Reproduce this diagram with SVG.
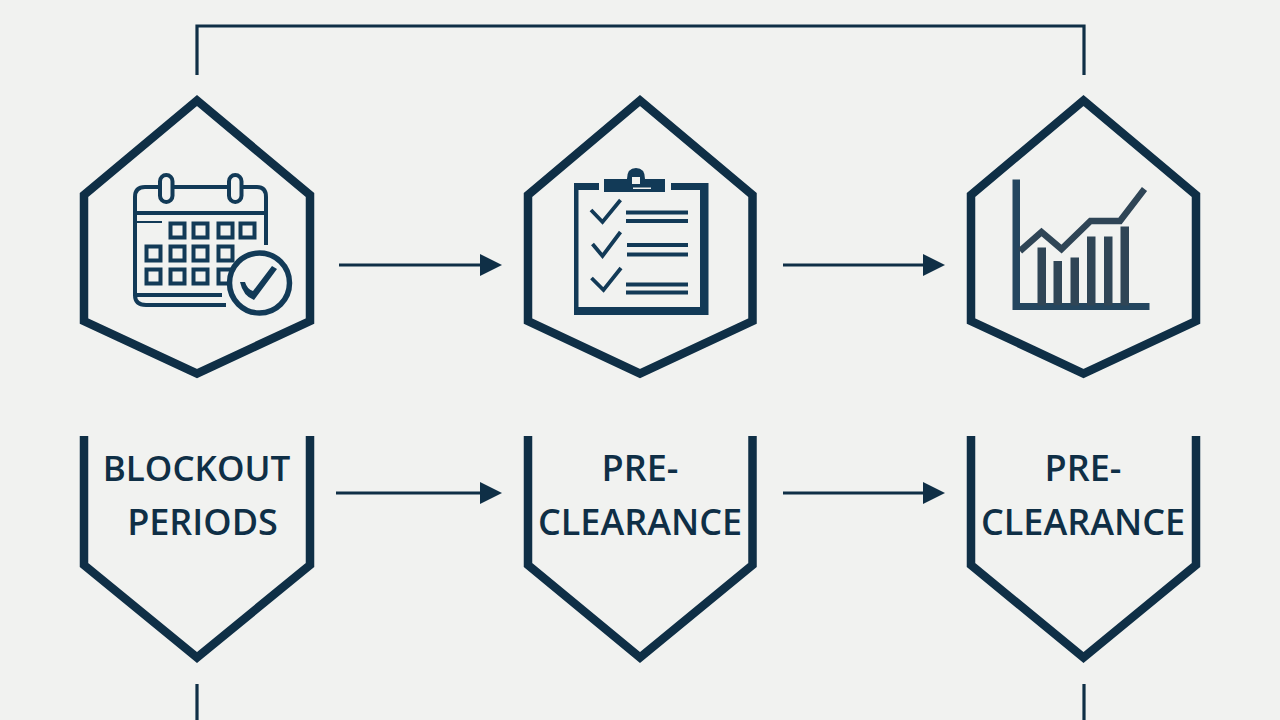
<svg xmlns="http://www.w3.org/2000/svg" width="1280" height="720" viewBox="0 0 1280 720">
<style>
.hex{fill:none;stroke:#0f2f46;stroke-width:8.500;stroke-linejoin:miter}
.ln{fill:none;stroke:#0f2f46;stroke-width:3.200}
.ic{fill:none;stroke:#123a57;stroke-width:4}
.sq{fill:none;stroke:#123a57;stroke-width:4}
.chk{fill:none;stroke:#123a57;stroke-width:3.800}
.bar{fill:#2f4556}
.lb{font-family:"Open Sans","Noto Sans",sans-serif;font-weight:600;font-size:36px;fill:#0f2f46;text-anchor:middle}
</style>
<defs>
<marker id="ah" markerUnits="userSpaceOnUse" markerWidth="22" markerHeight="24" refX="0" refY="12" orient="auto"><path d="M0,1 L22,12 L0,23 Z" fill="#0f2f46"/></marker>
</defs>
<rect width="1280" height="720" fill="#f1f2f0"/>
<g id="connectors">
<path class="ln" d="M197,75 V26 H1084 V75"/>
<path class="ln" d="M339,265 H480" marker-end="url(#ah)"/>
<path class="ln" d="M783,265 H923" marker-end="url(#ah)"/>
<path class="ln" d="M336,493 H480" marker-end="url(#ah)"/>
<path class="ln" d="M783,493 H923" marker-end="url(#ah)"/>
<path class="ln" d="M197,684 V720"/>
<path class="ln" d="M1084,684 V720"/>
</g>
<g id="node-calendar">
<path class="hex" d="M197,100.500 L310,195 V321 L197,373.500 L84,321 V195 Z"/>
<path class="ic" d="M135,296 V197 Q135,187 145,187 H257 Q266,187 266,197 V245"/>
<path class="ic" d="M135,213 H265"/>
<path class="ic" style="stroke-width:2" d="M136,222 H162"/>
<path class="ic" d="M135,295 H222 M135,295 Q135,305 146,305 H226"/>
<rect class="ic" x="160" y="175" width="12.500" height="27" rx="6.200" style="fill:#f1f2f0"/>
<rect class="ic" x="229" y="175" width="12.500" height="27" rx="6.200" style="fill:#f1f2f0"/>
<g class="sq">
<rect x="170.500" y="223.500" width="14" height="14"/><rect x="193.500" y="223.500" width="14" height="14"/><rect x="218.500" y="223.500" width="14" height="14"/><rect x="240.500" y="223.500" width="14" height="14"/>
<rect x="146.500" y="246.500" width="14" height="14"/><rect x="170.500" y="246.500" width="14" height="14"/><rect x="193.500" y="246.500" width="14" height="14"/><rect x="218.500" y="246.500" width="14" height="14"/>
<rect x="146.500" y="269.500" width="14" height="14"/><rect x="170.500" y="269.500" width="14" height="14"/><rect x="193.500" y="269.500" width="14" height="14"/><rect x="218.500" y="269.500" width="14" height="14"/>
</g>
<circle cx="259.500" cy="283" r="30" fill="#f1f2f0" stroke="#123a57" stroke-width="5.500"/>
<path fill="#123a57" d="M240,282 L245,282 Q247,289 253,291 L272,266 L277,269 L254,300 Q243,296 240,282 Z"/>
</g>
<g id="node-clipboard">
<path class="hex" d="M640,100.500 L752.500,195 V321 L640,373.500 L528,321 V195 Z"/>
<path fill="#123a57" d="M574,183 H599 V190 H578.500 V307 H700 V190 H671 V183 H708.500 V315 H574 Z"/>
<path fill="#123a57" d="M604,179 H627 Q627,168 636,168 Q645,168 645,179 H665 V192 H604 Z"/>
<rect x="632" y="177" width="8" height="7" fill="#f1f2f0"/>
<rect x="633" y="187.500" width="18" height="1.500" fill="#f1f2f0"/>
<path class="chk" d="M591,210 L602.500,222 L620.500,200 M592.500,244 L602.500,256 L620.500,232 M591.500,278 L603.500,290 L621,268"/>
<path class="chk" d="M626,212.500 H688 M626,221 H688 M627,245 H688 M627,254.500 H688 M626,284.500 H688 M626,292.500 H688"/>
</g>
<g id="node-chart">
<path class="hex" d="M1083.500,100.500 L1196,195 V321 L1083.500,373.500 L971,321 V195 Z"/>
<path fill="#24465f" d="M1012.500,179.500 H1020 V303 H1149.500 V310 H1012.500 Z"/>
<rect class="bar" x="1037.500" y="247.500" width="8.500" height="58"/>
<rect class="bar" x="1053.500" y="261" width="8.500" height="44"/>
<rect class="bar" x="1070.500" y="257.500" width="8.500" height="48"/>
<rect class="bar" x="1087" y="236.500" width="8.500" height="69"/>
<rect class="bar" x="1104" y="236.500" width="8.500" height="69"/>
<rect class="bar" x="1120.500" y="226.500" width="8.500" height="79"/>
<path fill="none" stroke="#2f4556" stroke-width="6.500" d="M1020,251 L1041.500,232 L1061.500,249 L1090.500,221 H1120 L1144.500,189"/>
</g>
<g id="node-blockout">
<path class="hex" d="M84,436 V565 L197,657.500 L310,565 V436"/>
<text class="lb" x="196.500" y="481" style="font-size:35px">BLOCKOUT</text>
<text class="lb" x="202.500" y="535">PERIODS</text>
</g>
<g id="node-preclearance-1">
<path class="hex" d="M528,436 V565 L640,657.500 L752.500,565 V436"/>
<text class="lb" x="640" y="481">PRE-</text>
<text class="lb" x="640" y="535">CLEARANCE</text>
</g>
<g id="node-preclearance-2">
<path class="hex" d="M971,436 V565 L1083.500,657.500 L1196,565 V436"/>
<text class="lb" x="1083" y="481">PRE-</text>
<text class="lb" x="1083" y="535">CLEARANCE</text>
</g>
</svg>
